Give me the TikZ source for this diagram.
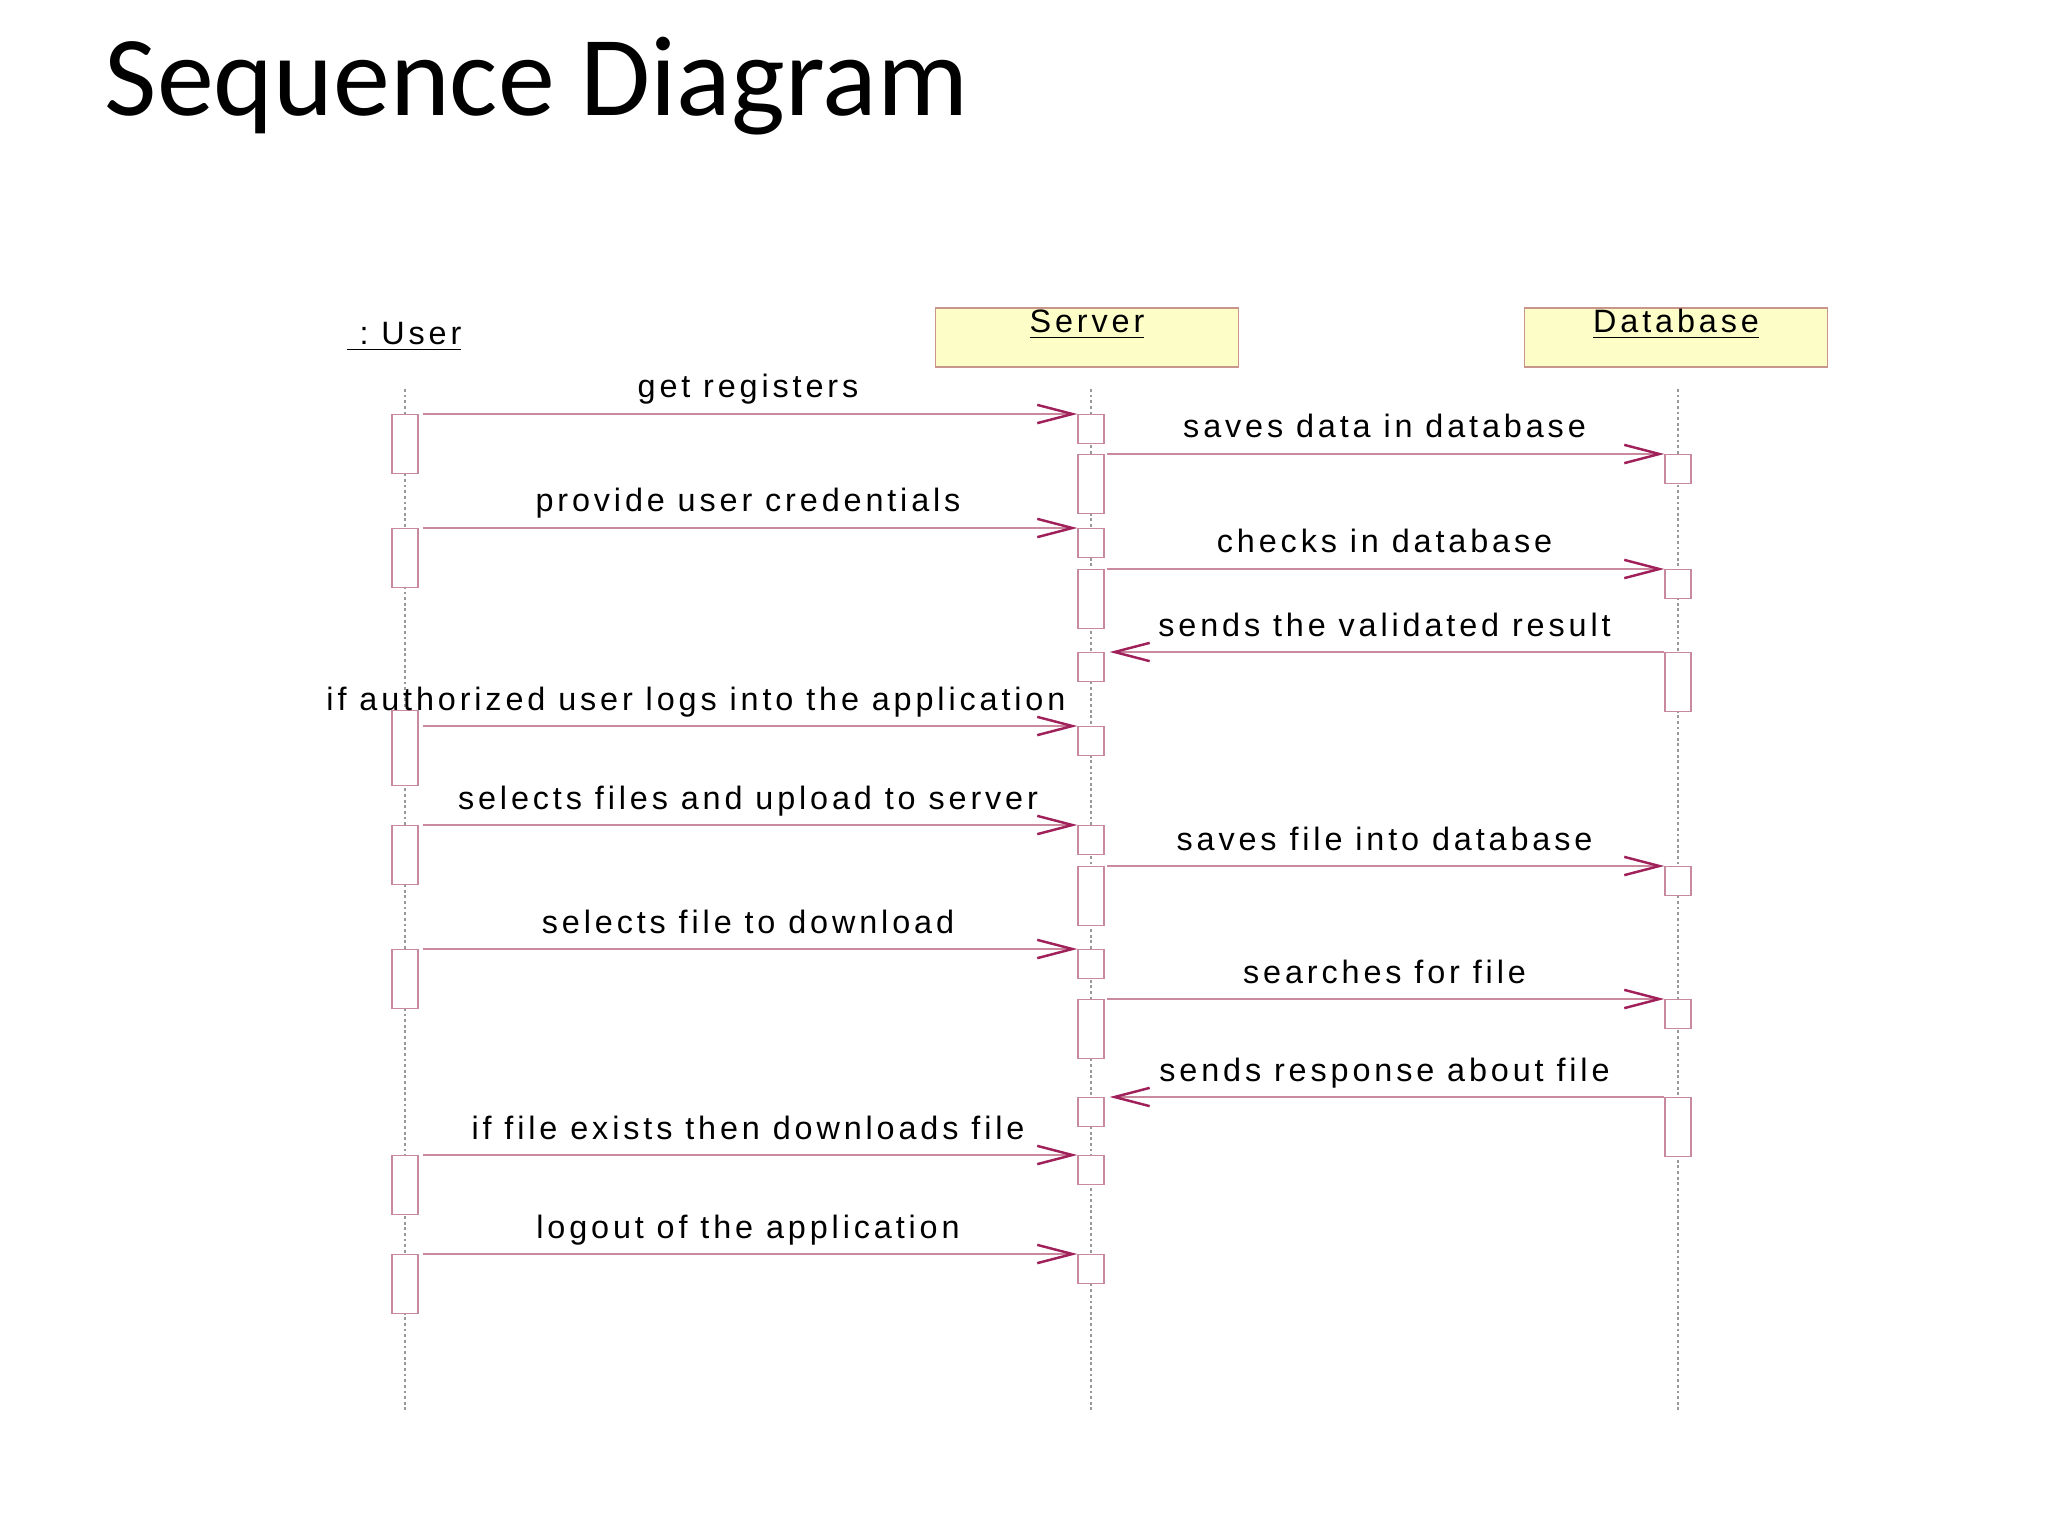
\documentclass[tikz,border=0pt]{standalone}
\usepackage{fontspec}
\newfontfamily\titlefont{Carlito}
\newfontfamily\msgfont[LetterSpace=12]{Liberation Sans}
\usetikzlibrary{arrows.meta}
\definecolor{actline}{HTML}{C98AA0}
\definecolor{tipred}{HTML}{A0205A}
\definecolor{headfill}{HTML}{FDFDC8}
\definecolor{headline}{HTML}{C9958A}

\begin{document}
\begin{tikzpicture}[
    x=0.01cm, y=-0.01cm,
    head/.style={rectangle, draw=headline, fill=headfill, line width=0.4pt, minimum width=3.03cm, minimum height=0.59cm, font=\msgfont\fontsize{9.2}{11}\selectfont, text depth=9.5pt, inner sep=0pt},
    act/.style={rectangle, draw=actline, fill=white, line width=0.4pt, minimum width=0.26cm, minimum height=0.59cm, inner sep=0pt, anchor=north},
    actS/.style={act, minimum height=0.29cm},
    life/.style={gray!80, line width=0.3pt, dash pattern=on 0.8pt off 0.8pt},
    msg/.style={draw=actline, line width=0.45pt, -{Straight Barb[length=10pt, width=5.2pt, line width=0.7pt, color=tipred]}},
    lbl/.style={font=\msgfont\fontsize{9.2}{11}\selectfont, anchor=base, inner sep=0pt, yshift=0.16cm, text=black}
]
\useasboundingbox (0,0) rectangle (2048,1536);

\node[font=\titlefont\fontsize{32.4}{38}\selectfont, anchor=base west, inner sep=0pt] (title) at (104,115) {Sequence Diagram};

\node[font=\msgfont\fontsize{9.2}{11}\selectfont, inner sep=0pt] (user) at (404,337) {\underline{\ :\ User}};
\node[head] (server) at (1087,337.5) {\underline{Server}};
\node[head] (database) at (1676,337.5) {\underline{Database}};

\coordinate (utop) at (405,389);
\coordinate (ubot) at (405,1412);
\coordinate (stop) at (1091,389);
\coordinate (sbot) at (1091,1412);
\coordinate (dtop) at (1678,389);
\coordinate (dbot) at (1678,1412);
\draw[life] (utop) -- (ubot);
\draw[life] (stop) -- (sbot);
\draw[life] (dtop) -- (dbot);

\node[act] (u1) at (405,414) {};
\node[actS] (s1) at (1091,414) {};
\node[act] (s2) at (1091,454) {};
\node[actS] (d2) at (1678,454) {};
\node[act] (u3) at (405,528) {};
\node[actS] (s3) at (1091,528) {};
\node[act] (s4) at (1091,569) {};
\node[actS] (d4) at (1678,569) {};
\node[act] (d5) at (1678,652) {};
\node[actS] (s5) at (1091,652) {};
\node[act, minimum height=0.75cm] (u6) at (405,710) {};
\node[actS] (s6) at (1091,726) {};
\node[act] (u7) at (405,825) {};
\node[actS] (s7) at (1091,825) {};
\node[act] (s8) at (1091,866) {};
\node[actS] (d8) at (1678,866) {};
\node[act] (u9) at (405,949) {};
\node[actS] (s9) at (1091,949) {};
\node[act] (s10) at (1091,999) {};
\node[actS] (d10) at (1678,999) {};
\node[act] (d11) at (1678,1097) {};
\node[actS] (s11) at (1091,1097) {};
\node[act] (u12) at (405,1155) {};
\node[actS] (s12) at (1091,1155) {};
\node[act] (u13) at (405,1254) {};
\node[actS] (s13) at (1091,1254) {};

\draw[msg, shorten <=1.1pt] (u1.north east) -- node[lbl, midway] {get registers} (s1.north west);
\draw[msg, shorten <=0.6pt] (s2.north east) -- node[lbl, midway] {saves data in database} (d2.north west);
\draw[msg, shorten <=1.1pt] (u3.north east) -- node[lbl, midway] {provide user credentials} (s3.north west);
\draw[msg, shorten <=0.6pt] (s4.north east) -- node[lbl, midway] {checks in database} (d4.north west);
\draw[msg, shorten >=1.4pt] (d5.north west) -- node[lbl, midway] {sends the validated result} (s5.north east);
\draw[msg, shorten <=1.1pt] (u6.east |- s6.north) -- node[lbl, midway, xshift=-0.52cm] {if authorized user logs into the application} (s6.north west);
\draw[msg, shorten <=1.1pt] (u7.north east) -- node[lbl, midway] {selects files and upload to server} (s7.north west);
\draw[msg, shorten <=0.6pt] (s8.north east) -- node[lbl, midway] {saves file into database} (d8.north west);
\draw[msg, shorten <=1.1pt] (u9.north east) -- node[lbl, midway] {selects file to download} (s9.north west);
\draw[msg, shorten <=0.6pt] (s10.north east) -- node[lbl, midway] {searches for file} (d10.north west);
\draw[msg, shorten >=1.4pt] (d11.north west) -- node[lbl, midway] {sends response about file} (s11.north east);
\draw[msg, shorten <=1.1pt] (u12.north east) -- node[lbl, midway] {if file exists then downloads file} (s12.north west);
\draw[msg, shorten <=1.1pt] (u13.north east) -- node[lbl, midway] {logout of the application} (s13.north west);

\end{tikzpicture}
\end{document}
